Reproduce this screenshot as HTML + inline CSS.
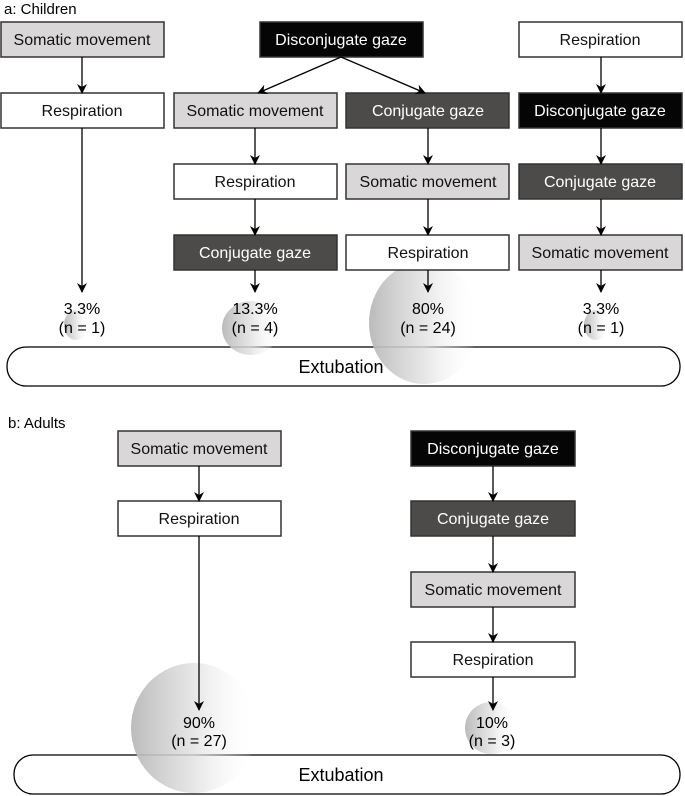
<!DOCTYPE html>
<html><head><meta charset="utf-8"><style>
html,body{margin:0;padding:0;background:#fff;}
svg{display:block;font-family:"Liberation Sans",Arial,sans-serif;}
</style></head><body>
<svg width="685" height="796" viewBox="0 0 685 796" xmlns="http://www.w3.org/2000/svg">
<defs>
<linearGradient id="g" x1="0" y1="0" x2="1" y2="0">
<stop offset="0" stop-color="#b8b8b8" stop-opacity="0.95"/>
<stop offset="0.5" stop-color="#e0e0e0" stop-opacity="0.8"/>
<stop offset="1" stop-color="#ffffff" stop-opacity="0"/>
</linearGradient>
<marker id="a" markerWidth="10" markerHeight="10" refX="9" refY="5" orient="auto" markerUnits="userSpaceOnUse">
<path d="M0,0 L10,5 L0,10 L3,5 z" fill="#000"/>
</marker>
</defs>
<g font-size="16">
<text x="4" y="14" font-size="15">a: Children</text>
<text x="8" y="428" font-size="15">b: Adults</text>
</g>

<!-- pills -->
<rect x="7" y="347" width="673" height="39" rx="19" fill="#fff" stroke="#000" stroke-width="1.3"/>
<rect x="14" y="755" width="666" height="39" rx="19" fill="#fff" stroke="#000" stroke-width="1.3"/>

<!-- bubbles -->
<ellipse cx="251" cy="328" rx="29" ry="27" fill="url(#g)"/>
<ellipse cx="424" cy="323" rx="55" ry="61" fill="url(#g)"/>
<ellipse cx="76" cy="325" rx="12" ry="15" fill="url(#g)"/>
<ellipse cx="596" cy="325" rx="12" ry="15" fill="url(#g)"/>
<ellipse cx="194" cy="728" rx="63" ry="65" fill="url(#g)"/>
<ellipse cx="491" cy="728" rx="26" ry="26" fill="url(#g)"/>

<g stroke="#333" stroke-width="1.5">
<!-- a boxes -->
<rect x="1" y="22" width="163" height="35" fill="#d9d7d7"/>
<rect x="260" y="22" width="163" height="35" fill="#050505"/>
<rect x="519" y="22" width="163" height="35" fill="#fff"/>
<rect x="1" y="93" width="163" height="35" fill="#fff"/>
<rect x="174" y="93" width="163" height="35" fill="#d9d7d7"/>
<rect x="346" y="93" width="163" height="35" fill="#4d4a4a"/>
<rect x="519" y="93" width="163" height="35" fill="#050505"/>
<rect x="174" y="164" width="163" height="35" fill="#fff"/>
<rect x="346" y="164" width="163" height="35" fill="#d9d7d7"/>
<rect x="519" y="164" width="163" height="35" fill="#4d4a4a"/>
<rect x="174" y="235" width="163" height="35" fill="#4d4a4a"/>
<rect x="346" y="235" width="163" height="35" fill="#fff"/>
<rect x="519" y="235" width="163" height="35" fill="#d9d7d7"/>
<!-- b boxes -->
<rect x="118" y="431" width="163" height="35" fill="#d9d7d7"/>
<rect x="118" y="501" width="163" height="35" fill="#fff"/>
<rect x="411" y="431" width="164" height="35" fill="#050505"/>
<rect x="411" y="501" width="164" height="35" fill="#4d4a4a"/>
<rect x="411" y="572" width="164" height="35" fill="#d9d7d7"/>
<rect x="411" y="642" width="164" height="35" fill="#fff"/>
</g>

<g stroke="#000" stroke-width="1.3" marker-end="url(#a)">
<line x1="82" y1="57" x2="82" y2="93"/>
<line x1="82" y1="128" x2="82" y2="292"/>
<line x1="341" y1="57" x2="258" y2="93"/>
<line x1="341" y1="57" x2="425" y2="93"/>
<line x1="255" y1="128" x2="255" y2="164"/>
<line x1="255" y1="199" x2="255" y2="235"/>
<line x1="255" y1="270" x2="255" y2="292"/>
<line x1="428" y1="128" x2="428" y2="164"/>
<line x1="428" y1="199" x2="428" y2="235"/>
<line x1="428" y1="270" x2="428" y2="292"/>
<line x1="601" y1="57" x2="601" y2="93"/>
<line x1="601" y1="128" x2="601" y2="164"/>
<line x1="601" y1="199" x2="601" y2="235"/>
<line x1="601" y1="270" x2="601" y2="292"/>
<line x1="199" y1="466" x2="199" y2="501"/>
<line x1="199" y1="536" x2="199" y2="710"/>
<line x1="493" y1="466" x2="493" y2="501"/>
<line x1="493" y1="536" x2="493" y2="572"/>
<line x1="493" y1="607" x2="493" y2="642"/>
<line x1="493" y1="677" x2="493" y2="710"/>
</g>

<g font-size="16" text-anchor="middle">
<text x="82" y="45" fill="#111">Somatic movement</text>
<text x="341" y="45" fill="#fff">Disconjugate gaze</text>
<text x="600" y="45" fill="#111">Respiration</text>
<text x="82" y="116" fill="#111">Respiration</text>
<text x="255" y="116" fill="#111">Somatic movement</text>
<text x="428" y="116" fill="#fff">Conjugate gaze</text>
<text x="600" y="116" fill="#fff">Disconjugate gaze</text>
<text x="255" y="187" fill="#111">Respiration</text>
<text x="428" y="187" fill="#111">Somatic movement</text>
<text x="600" y="187" fill="#fff">Conjugate gaze</text>
<text x="255" y="258" fill="#fff">Conjugate gaze</text>
<text x="428" y="258" fill="#111">Respiration</text>
<text x="600" y="258" fill="#111">Somatic movement</text>

<text x="82" y="314">3.3%</text><text x="82" y="333">(n = 1)</text>
<text x="255" y="314">13.3%</text><text x="255" y="333">(n = 4)</text>
<text x="428" y="314">80%</text><text x="428" y="333">(n = 24)</text>
<text x="601" y="314">3.3%</text><text x="601" y="333">(n = 1)</text>
<text x="341" y="373" font-size="18">Extubation</text>

<text x="199" y="454" fill="#111">Somatic movement</text>
<text x="199" y="524" fill="#111">Respiration</text>
<text x="493" y="454" fill="#fff">Disconjugate gaze</text>
<text x="493" y="524" fill="#fff">Conjugate gaze</text>
<text x="493" y="595" fill="#111">Somatic movement</text>
<text x="493" y="665" fill="#111">Respiration</text>
<text x="199" y="728">90%</text><text x="199" y="746">(n = 27)</text>
<text x="492" y="728">10%</text><text x="492" y="746">(n = 3)</text>
<text x="341" y="781" font-size="18">Extubation</text>
</g>
</svg>
</body></html>
